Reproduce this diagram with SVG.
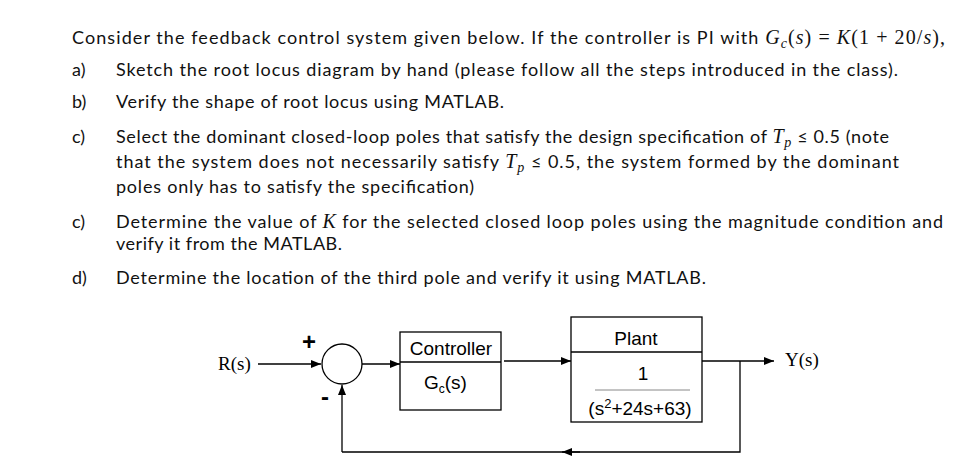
<svg xmlns="http://www.w3.org/2000/svg" width="968" height="471" viewBox="0 0 968 471">
<style>
.t{font-family:Lato,"Open Sans",sans-serif;font-size:18px;fill:#111}
.m{font-family:"Liberation Serif",serif;font-style:italic;font-size:20px}
.sb{font-family:"Liberation Serif",serif;font-style:italic;font-size:14px}
.d{font-family:"Liberation Sans",Arial,sans-serif;font-size:19px;fill:#000}
.r{font-family:"Liberation Serif",serif;font-size:19px;fill:#000}
.ln{stroke:#000;stroke-width:1.3;fill:none}
</style>
<defs><marker id="a" markerWidth="10" markerHeight="8" refX="10" refY="4" orient="auto" markerUnits="userSpaceOnUse"><path d="M0,0L10,4L0,8z" fill="#000"/></marker></defs>
<rect width="968" height="471" fill="#fff"/>
<g id="text">
<text class="t" x="72" y="44" textLength="873">Consider the feedback control system given below. If the controller is PI with <tspan class="m">G</tspan><tspan class="sb" dy="4">c</tspan><tspan dy="-4" style="font-size:20px;font-family:'Liberation Serif'">(</tspan><tspan class="m">s</tspan><tspan style="font-size:20px;font-family:'Liberation Serif'">) = </tspan><tspan class="m">K</tspan><tspan style="font-size:20px;font-family:'Liberation Serif'">(1 + 20/</tspan><tspan class="m">s</tspan><tspan style="font-size:20px;font-family:'Liberation Serif'">),</tspan></text>
<text class="t" x="72" y="76">a)</text><text class="t" x="116" y="76" textLength="782">Sketch the root locus diagram by hand (please follow all the steps introduced in the class).</text>
<text class="t" x="72" y="108">b)</text><text class="t" x="116" y="108" textLength="388">Verify the shape of root locus using MATLAB.</text>
<text class="t" x="72" y="143">c)</text><text class="t" x="116" y="143" textLength="773">Select the dominant closed-loop poles that satisfy the design specification of <tspan class="m">T</tspan><tspan class="sb" dy="4">p</tspan><tspan dy="-4"> ≤ 0.5 (note</tspan></text>
<text class="t" x="116" y="168" textLength="783">that the system does not necessarily satisfy <tspan class="m">T</tspan><tspan class="sb" dy="4">p</tspan><tspan dy="-4"> ≤ 0.5, the system formed by the dominant</tspan></text>
<text class="t" x="116" y="193" textLength="358">poles only has to satisfy the specification)</text>
<text class="t" x="72" y="228">c)</text><text class="t" x="116" y="228" textLength="827">Determine the value of <tspan class="m">K</tspan> for the selected closed loop poles using the magnitude condition and</text>
<text class="t" x="116" y="250" textLength="226">verify it from the MATLAB.</text>
<text class="t" x="72" y="284">d)</text><text class="t" x="116" y="284" textLength="590">Determine the location of the third pole and verify it using MATLAB.</text>
</g>
<g id="sum"><circle cx="342" cy="364" r="20" class="ln"/><text class="d" x="302" y="350" style="font-size:24px;font-weight:bold">+</text><text class="d" x="321" y="405" style="font-size:24px;font-weight:bold">-</text></g>
<g id="controller"><rect x="400" y="332" width="101" height="78" class="ln"/><line x1="400" y1="362" x2="501" y2="362" class="ln"/><text class="d" x="451" y="355" text-anchor="middle">Controller</text><text class="d" x="424" y="389">G<tspan style="font-size:12px" dy="4">c</tspan><tspan dy="-4">(s)</tspan></text></g>
<g id="plant"><rect x="571" y="317" width="131" height="105" class="ln"/><line x1="571" y1="352" x2="702" y2="352" class="ln"/><text class="d" x="636" y="345" text-anchor="middle">Plant</text><text class="d" x="643" y="380" text-anchor="middle">1</text><line x1="595" y1="390" x2="690" y2="390" stroke="#888"/><text class="d" x="640" y="415" text-anchor="middle">(s<tspan style="font-size:13px" dy="-7">2</tspan><tspan dy="7">+24s+63)</tspan></text></g>
<g id="labels"><text class="r" x="218" y="370">R(s)</text><text class="r" x="785" y="366">Y(s)</text></g>
<g id="connectors">
<line x1="258" y1="364" x2="321" y2="364" class="ln" marker-end="url(#a)"/>
<line x1="362" y1="364" x2="400" y2="364" class="ln" marker-end="url(#a)"/>
<line x1="504" y1="361" x2="571" y2="361" class="ln" marker-end="url(#a)"/>
<line x1="702" y1="361" x2="774" y2="361" class="ln" marker-end="url(#a)"/>
<polyline points="740,361 740,452 342,452" class="ln"/>
<line x1="580" y1="452" x2="562" y2="452" class="ln" marker-end="url(#a)"/>
<line x1="342" y1="452" x2="342" y2="385" class="ln" marker-end="url(#a)"/>
</g>
</svg>
